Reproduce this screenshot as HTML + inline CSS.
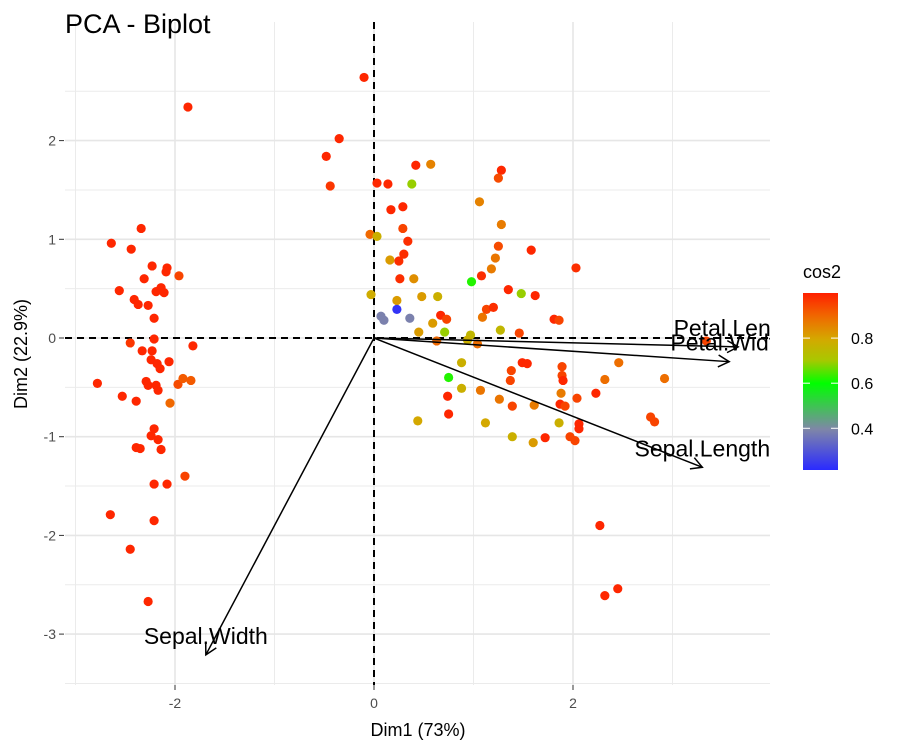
<!DOCTYPE html>
<html><head><meta charset="utf-8">
<style>
html,body{margin:0;padding:0;background:#fff;}
svg text{font-family:"Liberation Sans",Arial,sans-serif;}
</style></head>
<body>
<svg id="chart" width="900" height="750" viewBox="0 0 900 750" xmlns="http://www.w3.org/2000/svg">
<defs>
<linearGradient id="cosgrad" x1="0" y1="0" x2="0" y2="1">
<stop offset="0" stop-color="#ff2000"/>
<stop offset="0.13" stop-color="#f06800"/>
<stop offset="0.26" stop-color="#d4a800"/>
<stop offset="0.38" stop-color="#a8c800"/>
<stop offset="0.51" stop-color="#00ff00"/>
<stop offset="0.77" stop-color="#7f86a8"/>
<stop offset="1" stop-color="#2a2aff"/>
</linearGradient>
<marker id="ah" markerWidth="14" markerHeight="14" refX="12" refY="7" orient="auto" markerUnits="userSpaceOnUse">
<path d="M1,1 L12,7 L1,13" fill="none" stroke="#000" stroke-width="1.5"/>
</marker>
</defs>
<g id="grid"></g>
<g id="refs"></g>
<g id="points"></g>
<g id="arrows"></g>
<g id="axes"></g>
<text x="65" y="33" font-size="27" fill="#000">PCA - Biplot</text>
<text x="418" y="736" font-size="18" text-anchor="middle" fill="#000">Dim1 (73%)</text>
<text transform="translate(27,354) rotate(-90)" font-size="18" text-anchor="middle" fill="#000">Dim2 (22.9%)</text>
<g>
<text x="803" y="278" font-size="18" fill="#000">cos2</text>
<rect x="803" y="293" width="35" height="177" fill="url(#cosgrad)"/>
<g id="legticks"></g>
</g>
</svg>
<script>
const xTicks = [-2, 0, 2];
const xTickLabels = ["-2", "0", "2"];
const yTicks = [-3, -2, -1, 0, 1, 2];
const yTickLabels = ["-3", "-2", "-1", "0", "1", "2"];
const legendTicks = [0.4, 0.6, 0.8];
const legendLabels = ["0.4", "0.6", "0.8"];

const dim1 = [-2.34,-2.64,-2.44,-2.23,-2.08,-2.09,-1.96,-2.31,-2.56,-2.19,-2.14,-2.11,-2.41,-2.37,-2.27,-2.21,-2.21,-2.45,-2.33,-2.23,-1.82,-2.24,-2.18,-2.15,-2.06,-2.78,-2.29,-2.27,-2.19,-2.17,-1.97,-1.92,-1.84,-2.53,-2.39,-2.05,-2.21,-2.24,-2.17,-2.39,-2.35,-2.14,-1.90,-2.21,-2.08,-1.87,-2.65,-2.45,-2.27,-2.21,
-0.10,-0.35,-0.48,-0.44,0.42,0.57,0.03,0.14,0.38,1.28,1.25,1.06,0.17,0.29,0.29,1.28,-0.04,0.03,0.34,1.25,0.30,1.58,1.22,0.16,0.25,1.18,0.26,0.40,0.98,1.08,-0.03,1.35,1.48,1.62,0.23,0.48,0.64,0.23,0.07,0.10,0.36,0.67,0.73,1.09,1.13,1.20,0.45,0.59,0.71,0.97,1.27,1.46,1.81,1.86,2.03,2.92,2.46,2.32,2.23,2.78,2.82,0.94,1.04,0.63,0.88,0.75,0.88,1.07,0.74,0.75,0.44,1.12,1.26,1.39,1.38,1.37,1.49,1.54,1.61,1.89,1.89,1.90,1.88,1.87,1.92,2.04,1.86,2.06,2.06,1.39,1.60,1.72,1.97,2.02,2.27,2.32,2.45,3.34];
const dim2 = [1.11,0.96,0.90,0.73,0.71,0.67,0.63,0.60,0.48,0.47,0.51,0.46,0.39,0.34,0.33,0.20,-0.01,-0.05,-0.13,-0.13,-0.08,-0.22,-0.26,-0.31,-0.24,-0.46,-0.44,-0.48,-0.48,-0.53,-0.47,-0.41,-0.43,-0.59,-0.64,-0.66,-0.92,-0.99,-1.03,-1.11,-1.12,-1.13,-1.40,-1.48,-1.48,2.34,-1.79,-2.14,-2.67,-1.85,
2.64,2.02,1.84,1.54,1.75,1.76,1.57,1.56,1.56,1.70,1.62,1.38,1.30,1.33,1.11,1.15,1.05,1.03,0.98,0.93,0.85,0.89,0.81,0.79,0.78,0.70,0.60,0.60,0.57,0.63,0.44,0.49,0.45,0.43,0.38,0.42,0.42,0.29,0.22,0.18,0.20,0.23,0.19,0.21,0.29,0.31,0.06,0.15,0.06,0.03,0.08,0.05,0.19,0.18,0.71,-0.41,-0.25,-0.42,-0.56,-0.80,-0.85,-0.02,-0.06,-0.03,-0.25,-0.40,-0.51,-0.53,-0.59,-0.77,-0.84,-0.86,-0.62,-0.69,-0.33,-0.43,-0.25,-0.26,-0.68,-0.29,-0.38,-0.43,-0.56,-0.67,-0.69,-0.61,-0.86,-0.87,-0.92,-1.00,-1.06,-1.01,-1.00,-1.04,-1.90,-2.61,-2.54,-0.03];
const cos2 = [0.99,0.99,0.99,0.99,0.99,0.99,0.95,0.99,0.99,0.99,0.99,0.99,0.99,0.99,0.99,0.99,0.99,0.97,0.99,0.99,0.99,0.99,0.99,0.99,0.99,0.99,0.99,0.99,0.99,0.99,0.94,0.92,0.92,0.99,0.99,0.90,0.99,0.99,0.99,0.99,0.99,0.99,0.95,0.99,0.99,0.99,0.99,0.99,0.99,0.99,
0.99,0.99,0.99,0.97,0.99,0.86,0.99,0.99,0.70,0.99,0.94,0.86,0.99,0.99,0.95,0.87,0.90,0.78,0.98,0.94,0.98,0.99,0.88,0.82,0.98,0.87,0.98,0.84,0.63,0.98,0.79,0.99,0.70,0.99,0.82,0.82,0.78,0.24,0.40,0.40,0.40,0.99,0.95,0.88,0.95,0.98,0.82,0.82,0.70,0.76,0.76,0.95,0.99,0.95,0.98,0.89,0.89,0.89,0.99,0.95,0.95,0.78,0.89,0.90,0.78,0.63,0.78,0.88,0.99,0.99,0.80,0.80,0.88,0.95,0.95,0.95,0.99,0.99,0.87,0.95,0.95,0.99,0.87,0.99,0.95,0.95,0.78,0.99,0.99,0.78,0.82,0.99,0.95,0.95,0.99,0.99,0.99,0.95];

const varNames = ["Petal.Length", "Petal.Width", "Sepal.Length", "Sepal.Width"];
const varX = [3.66, 3.57, 3.30, -1.69];
const varY = [-0.09, -0.24, -1.31, -3.21];

const P = {l:65, r:770, t:22, b:685};
const X0 = 374, XS = 99.5, Y0 = 338, YS = 98.7;
function sx(v){ return X0 + v*XS; }
function sy(v){ return Y0 - v*YS; }

const colStops = [[0.22,[42,42,255]],[0.41,[127,134,168]],[0.61,[0,255,0]],[0.71,[168,200,0]],[0.80,[212,168,0]],[0.90,[240,104,0]],[1.0,[255,32,0]]];
function colorFor(c){
  if(c<=colStops[0][0]) return 'rgb('+colStops[0][1].join(',')+')';
  for(let i=1;i<colStops.length;i++){
    if(c<=colStops[i][0]){
      const a=colStops[i-1], b=colStops[i], t=(c-a[0])/(b[0]-a[0]);
      const rgb=a[1].map((v,k)=>Math.round(v+(b[1][k]-v)*t));
      return 'rgb('+rgb.join(',')+')';
    }
  }
  return 'rgb(255,32,0)';
}
const NS = 'http://www.w3.org/2000/svg';
function mk(tag, attrs, parent){
  const e=document.createElementNS(NS,tag);
  for(const k in attrs) e.setAttribute(k, attrs[k]);
  parent.appendChild(e); return e;
}
const grid=document.getElementById('grid');
const defs=document.querySelector('defs');
const cp=mk('clipPath',{id:'panelclip'},defs);
mk('rect',{x:P.l,y:P.t,width:P.r-P.l,height:P.b-P.t},cp);

[-3,-1,1,3].forEach(v=>{
  const l=mk('line',{x1:sx(v),x2:sx(v),y1:P.t,y2:P.b,stroke:'#ebebeb','stroke-width':1},grid);
  
  
});
[-3.5,-2.5,-1.5,-0.5,0.5,1.5,2.5].forEach(v=>{
  const l=mk('line',{x1:P.l,x2:P.r,y1:sy(v),y2:sy(v),stroke:'#ebebeb','stroke-width':1},grid);
  
  
});
xTicks.forEach(v=>{
  const l=mk('line',{x1:sx(v),x2:sx(v),y1:P.t,y2:P.b,stroke:'#e6e6e6','stroke-width':1.6},grid);
  
  
});
yTicks.forEach(v=>{
  const l=mk('line',{x1:P.l,x2:P.r,y1:sy(v),y2:sy(v),stroke:'#e6e6e6','stroke-width':1.6},grid);
  
  
});
const refs=document.getElementById('refs');
const rv=mk('line',{x1:sx(0),x2:sx(0),y1:P.t,y2:P.b,stroke:'#000','stroke-width':2,'stroke-dasharray':'7,5'},refs);


const rh=mk('line',{x1:P.l,x2:P.r,y1:sy(0),y2:sy(0),stroke:'#000','stroke-width':2,'stroke-dasharray':'7,5'},refs);



const pts=document.getElementById('points');
for(let i=0;i<dim1.length;i++){
  const c=mk('circle',{cx:sx(dim1[i]),cy:sy(dim2[i]),r:4.6,fill:colorFor(cos2[i])},pts);
  
  
}
const arr=document.getElementById('arrows');
arr.setAttribute('clip-path','url(#panelclip)');
for(let i=0;i<varNames.length;i++){
  const l=mk('line',{x1:sx(0),y1:sy(0),x2:sx(varX[i]),y2:sy(varY[i]),stroke:'#000','stroke-width':1.5,'marker-end':'url(#ah)'},arr);
  
  
  const t=mk('text',{x:sx(varX[i]),y:sy(varY[i])-11,'font-size':23,'text-anchor':'middle',fill:'#000'},arr);
  t.textContent=varNames[i];
  
  
}
const axes=document.getElementById('axes');
xTicks.forEach((v,i)=>{
  const tk=mk('line',{x1:sx(v),x2:sx(v),y1:P.b,y2:P.b+5,stroke:'#333','stroke-width':1},axes);
  
  
  const t=mk('text',{x:sx(v),y:P.b+23,'font-size':14,'text-anchor':'middle',fill:'#4d4d4d'},axes);
  t.textContent=xTickLabels[i];
  
  
});
yTicks.forEach((v,i)=>{
  const tk=mk('line',{x1:P.l-6,x2:P.l-1,y1:sy(v),y2:sy(v),stroke:'#333','stroke-width':1},axes);
  
  
  const t=mk('text',{x:P.l-9,y:sy(v)+5,'font-size':14,'text-anchor':'end',fill:'#4d4d4d'},axes);
  t.textContent=yTickLabels[i];
  
  
});
const lg=document.getElementById('legticks');
function ly(v){ return 293 + (1.0 - v)/(1.0-0.215)*177; }
legendTicks.forEach((v,i)=>{
  const a=mk('line',{x1:803,x2:810,y1:ly(v),y2:ly(v),stroke:'#fff','stroke-width':1},lg);
  
  
  const b=mk('line',{x1:831,x2:838,y1:ly(v),y2:ly(v),stroke:'#fff','stroke-width':1},lg);
  
  
  const t=mk('text',{x:851,y:ly(v)+6,'font-size':16,fill:'#000'},lg);
  t.textContent=legendLabels[i];
  
  
});
</script>
</body></html>
